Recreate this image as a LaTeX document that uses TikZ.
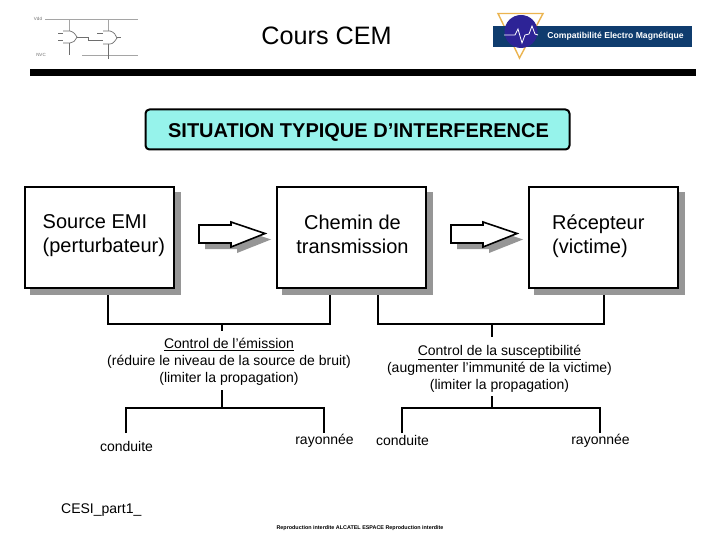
\documentclass[tikz,border=0pt]{standalone}
\usepackage{fontspec}
\setmainfont{Liberation Sans}
\usetikzlibrary{calc}
\definecolor{cyanbox}{RGB}{150,243,235}
\definecolor{shadowgray}{RGB}{150,150,150}
\definecolor{logoblue}{RGB}{15,60,110}
\definecolor{globeblue}{RGB}{45,35,150}
\definecolor{logogold}{RGB}{235,180,80}
\definecolor{wiregray}{RGB}{165,165,165}
\definecolor{gategray}{RGB}{110,110,110}
\tikzset{
  x=1pt,y=-1pt,
  blackline/.style={draw=black,line width=2pt},
  box/.style={draw=black,line width=2pt,fill=white,minimum width=149pt,minimum height=100pt,inner sep=0pt},
  boxtext/.style={font=\fontsize{20}{24}\selectfont,inner sep=0pt},
  shadowfill/.style={fill=shadowgray,draw=none},
  label/.style={font=\fontsize{14}{17}\selectfont,align=center,inner sep=0pt},
  arrowshape/.style={draw=black,line width=1.6pt,fill=white,line join=miter},
  wire/.style={draw=wiregray,line width=0.6pt},
  gateline/.style={draw=gategray,line width=0.7pt},
  tinylabel/.style={font=\fontsize{4.5}{5}\selectfont,text=gategray,inner sep=0pt}
}
\begin{document}
\begin{tikzpicture}
\useasboundingbox (0,0) rectangle (720,540);
\fill[white] (0,0) rectangle (720,540);
% header
\node[font=\fontsize{25.2}{27}\selectfont,inner sep=0pt] (title) at (326.5,36) {Cours CEM};
\fill[black] (30,69) rectangle (696,76);
% circuit logo
\coordinate (ca) at (45,19.5);
\coordinate (cb) at (138,19.5);
\coordinate (cc) at (82,55);
\coordinate (cd) at (138,55);
\draw[wire] (ca) -- (cb);
\draw[wire] (cc) -- (cd);
\draw[wire] (69,19.5) -- (69,31);
\draw[gateline] (69,43) -- (69,55);
\draw[wire] (108,19.5) -- (108,31);
\draw[gateline] (108,44) -- (108,59);
\draw[gateline] (63,31) -- (70,31) .. controls (74,32) and (76,35) .. (77,37) .. controls (75,41) and (73,43) .. (70,43) -- (63,43);
\draw[gateline] (103,31) -- (110,31) .. controls (114,32) and (116,35) .. (117,38) .. controls (115,41) and (113,44) .. (110,44) -- (103,44);
\draw[gateline] (77,37) -- (88,37) -- (88,40) -- (103,40);
\draw[gateline,line width=1pt] (58,34) -- (63,34);
\draw[gateline,line width=1pt] (58,40.5) -- (63,40.5);
\draw[gateline,line width=1pt] (97,34) -- (103,34);
\draw[gateline,line width=1pt] (117,37.5) -- (121,37.5);
\node[tinylabel] (vdd) at (38,18.5) {Vdd};
\node[tinylabel] (vcc) at (41,55) {NVC};
% right logo
\draw[logogold,line width=1.4pt] (498,13.5) -- (543,13.5) -- (519.5,58) -- cycle;
\fill[logoblue] (493,26) rectangle (692,47);
\fill[globeblue] (521,31.5) circle (16.5);
\draw[white,line width=0.8pt] (504,35) -- (515,35) -- (518,29) -- (522,43) -- (525,35) -- (529,34) -- (532,26) -- (535,34) -- (538,35);
\node[text=white,font=\fontsize{8.6}{9}\selectfont\bfseries,inner sep=0pt] (logotext) at (615.5,36.5) {Compatibilité Electro Magnétique};
% banner
\node[draw=black,line width=2pt,fill=cyanbox,rounded corners=4pt,minimum width=424pt,minimum height=40pt,inner sep=0pt] (banner) at (357.5,129.5) {};
\node[inner sep=0pt,font=\fontsize{20}{22}\selectfont\bfseries] (bannertext) at (358.5,132.5) {SITUATION TYPIQUE D’INTERFERENCE};
% shadows
\fill[shadowfill] (30,192) rectangle (181,295);
\fill[shadowfill] (282,192) rectangle (433,295);
\fill[shadowfill] (534,192) rectangle (685,295);
% boxes
\node[box] (src) at (99.5,237.5) {};
\node[box] (chem) at (351.5,237.5) {};
\node[box] (rec) at (603.5,237.5) {};
\node[boxtext,align=left,anchor=west] (srct) at (42.5,236) {Source EMI\\(perturbateur)};
\node[boxtext,align=center] (chemt) at (352.5,234) {Chemin de\\transmission};
\node[boxtext,align=left,anchor=west] (rect) at (552,236) {Récepteur\\(victime)};
% arrows
\foreach \ox/\nm in {0/a,252/b}{
  \fill[shadowfill] (\ox+205,231) -- (\ox+237,231) -- (\ox+237,228) -- (\ox+271,239.5) -- (\ox+237,253) -- (\ox+237,249) -- (\ox+205,249) -- cycle;
  \draw[arrowshape] (\ox+199,225) -- (\ox+231,225) -- (\ox+231,222) -- (\ox+265,233.5) -- (\ox+231,247) -- (\ox+231,243) -- (\ox+199,243) -- cycle;
}
% brackets
\draw[blackline] (108,295) -- (108,324) -- (330,324) -- (330,295);
\draw[blackline] (378,295) -- (378,324) -- (604,324) -- (604,295);
\coordinate (leftmid) at (222,324);
\coordinate (rightmid) at (492,324);
\node[label] (ctrl1) at (229,362) {\underline{Control de l'émission}\\(réduire le niveau de la source de bruit)\\(limiter la propagation)};
\node[label] (ctrl2) at (499.5,368.5) {\underline{Control de la susceptibilité}\\(augmenter l'immunité de la victime)\\(limiter la propagation)};
\draw[blackline] (leftmid) -- (222,331);
\draw[blackline] (rightmid) -- (492,337);
\coordinate (lj) at (222,408);
\coordinate (rj) at (492,408);
\draw[blackline] (222,390) -- (lj);
\draw[blackline] (492,396) -- (rj);
\draw[blackline] (126,433) -- (126,408) -- (324,408) -- (324,433);
\draw[blackline] (402,433) -- (402,408) -- (600,408) -- (600,433);
\node[label] (cond1) at (126.5,446) {conduite};
\node[label] (ray1) at (324.5,441) {rayonnée};
\node[label] (cond2) at (402.5,440) {conduite};
\node[label] (ray2) at (600.5,441) {rayonnée};
\node[label,anchor=west] (part) at (61,510) {CESI\_part1\_};
\node[font=\fontsize{5.4}{6}\selectfont\bfseries,inner sep=0pt] (foot) at (360,528) {Reproduction interdite ALCATEL ESPACE Reproduction interdite};
\end{tikzpicture}
\end{document}
